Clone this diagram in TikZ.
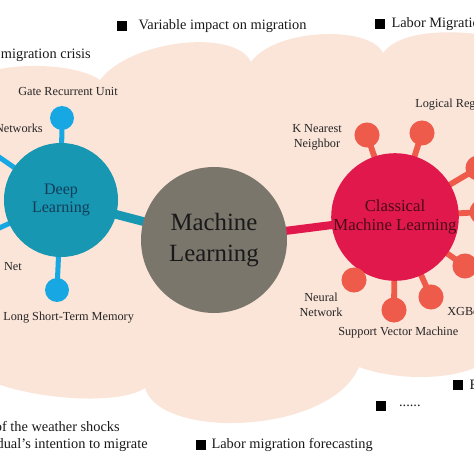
\documentclass[tikz,border=0pt]{standalone}
\usepackage{fontspec}
\setmainfont{Liberation Serif}
\usetikzlibrary{positioning}
\definecolor{cloudpeach}{HTML}{FBE4D8}
\definecolor{dlteal}{HTML}{1797B1}
\definecolor{dlblue}{HTML}{17A8E3}
\definecolor{dlnavy}{HTML}{123E5A}
\definecolor{mlgrey}{HTML}{7A766C}
\definecolor{cmlred}{HTML}{E0184C}
\definecolor{cmldark}{HTML}{4A0A16}
\definecolor{cmlsalmon}{HTML}{EF5B4B}
\pgfdeclarelayer{cloudlayer}
\pgfdeclarelayer{background}
\pgfsetlayers{cloudlayer,background,main}
\tikzset{
  hub/.style = {circle, inner sep=0pt, align=center},
  dlknob/.style = {circle, fill=dlblue, minimum size=17.2pt, inner sep=0pt},
  cmlknob/.style = {circle, fill=cmlsalmon, minimum size=18pt, inner sep=0pt},
  dlstem/.style = {draw=dlblue, line width=3.6pt},
  cmlstem/.style = {draw=cmlsalmon, line width=4.2pt},
  lbl/.style = {font=\fontsize{8.8}{10.8}\selectfont, inner sep=0pt, align=center, text=black!85},
  legend/.style = {font=\fontsize{10.3}{13}\selectfont, inner sep=0pt, text=black!90},
  sq/.style = {fill=black, minimum size=7.2pt, inner sep=0pt}
}

\begin{document}
\begin{tikzpicture}[x=0.7173pt, y=-0.7173pt]
\useasboundingbox (0,0) rectangle (474,474);
\clip (0,0) rectangle (474,474);

% ----- CLOUD -----
\begin{pgfonlayer}{cloudlayer}
\fill[cloudpeach] (-5,70) .. controls (30,62) and (80,66) .. (100,80)
  .. controls (130,40) and (235,28) .. (251,62)
  .. controls (275,28) and (370,25) .. (383,53)
  .. controls (400,30) and (450,30) .. (485,35)
  -- (485,362)
  .. controls (460,380) and (400,382) .. (359,367)
  .. controls (330,435) and (160,440) .. (145,388)
  .. controls (120,405) and (40,400) .. (-5,383) -- cycle;
\end{pgfonlayer}

% ----- HUBS -----
\node[hub, fill=dlteal, minimum size=81.8pt, text=dlnavy, font=\fontsize{11.5}{13}\selectfont] (dl) at (61,200) {Deep\\Learning};
\node[hub, fill=mlgrey, minimum size=104.7pt, text=black!90, font=\fontsize{17.8}{22.2}\selectfont] (ml) at (214,240) {Machine\\Learning};
\node[hub, fill=cmlred, minimum size=86pt, text=cmldark, font=\fontsize{12}{14.3}\selectfont] (cml) at (395,217) {Classical\\Machine Learning};

% Deep learning knobs
\node[dlknob] (gru) at (62,118) {};
\node[dlknob] (lstm) at (57,290) {};
\node[dlknob] (cnn) at (-14,148) {};
\node[dlknob] (rnet) at (-14,234) {};

% Classical knobs
\node[cmlknob] (knn) at (367,135) {};
\node[cmlknob] (logreg) at (422,133) {};
\node[cmlknob] (cmlk3) at (478,168) {};
\node[cmlknob] (cmlk4) at (482,212) {};
\node[cmlknob] (cmlk5) at (465,266) {};
\node[cmlknob] (xgb) at (431,297) {};
\node[cmlknob] (svm) at (394,310) {};
\node[cmlknob] (nn) at (354,280) {};

% ----- LABELS -----
\node[lbl] (gru-l) at (68,91) {Gate Recurrent Unit};
\node[lbl, anchor=east] (cnn-l) at (43,128) {Networks};
\node[lbl, anchor=east] (rnet-l) at (22,267) {Net};
\node[lbl, anchor=west] (lstm-l) at (3,318) {Long Short-Term Memory};
\node[lbl] (knn-l) at (317,137) {K Nearest\\Neighbor};
\node[lbl, anchor=west] (logreg-l) at (415,105) {Logical Regression};
\node[lbl] (nn-l) at (321,305) {Neural\\Network};
\node[lbl, anchor=west] (svm-l) at (338,333) {Support Vector Machine};
\node[lbl, anchor=west] (xgb-l) at (447,311) {XGBoost};

% ----- LEGEND -----
\node[sq] (var-sq) at (122,26) {};
\node[legend, right=7.9pt of var-sq] (var-t) {Variable impact on migration};
\node[sq] (lab-sq) at (380,24) {};
\node[legend, right=4.3pt of lab-sq] (lab-t) {Labor Migration};
\node[legend, anchor=east] (crisis) at (91,55) {migration crisis};
\node[sq] (e-sq) at (458,385) {};
\node[legend, right=4.3pt of e-sq] (e-t) {E};
\node[sq] (dots-sq) at (381,406) {};
\node[legend, right=9pt of dots-sq] (dots-t) {......};
\node[legend, anchor=east] (shock1) at (120,427) {of the weather shocks};
\node[legend, anchor=east] (shock2) at (148,445) {dual's intention to migrate};
\node[sq] (fc-sq) at (201,445) {};
\node[legend, right=3.6pt of fc-sq] (fc-t) {Labor migration forecasting};

% ----- CONNECTORS -----
\begin{pgfonlayer}{background}
\draw[dlteal, line width=6.3pt] (dl.center) -- (ml.center);
\draw[cmlred, line width=5.8pt] (ml.center) -- (cml.center);
\foreach \k in {gru,lstm,cnn,rnet}
  \draw[dlstem] (dl.center) -- (\k.center);
\foreach \k in {knn,logreg,cmlk3,cmlk4,cmlk5,xgb,svm,nn}
  \draw[cmlstem] (cml.center) -- (\k.center);
\end{pgfonlayer}

\end{tikzpicture}
\end{document}
